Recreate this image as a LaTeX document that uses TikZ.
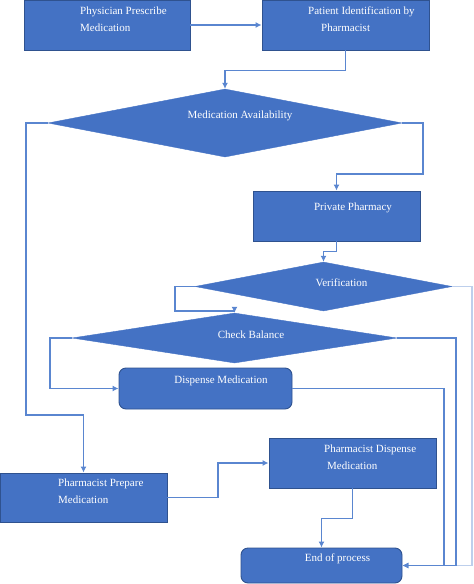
\documentclass[tikz,border=0pt]{standalone}
\usepackage{fontspec}
\setmainfont{Liberation Serif}
\usepackage{tikz}
\usetikzlibrary{shapes,arrows.meta}
\definecolor{flowblue}{HTML}{4472C4}
\definecolor{flowedge}{HTML}{2F528F}
\definecolor{flowline}{HTML}{5A86D0}
\tikzstyle{line} = [draw=flowline, line width=1.2pt, -{Latex[length=6pt,width=6pt]}]
\tikzstyle{paleline} = [line, draw=flowline!40]
\tikzstyle{box} = [draw=flowedge, fill=flowblue, line width=0.9pt, inner sep=0pt]
\tikzstyle{rbox} = [box, rounded corners=7pt]
\tikzstyle{decision} = [diamond, fill=flowblue, draw=flowblue, inner sep=0pt]
\tikzstyle{txt} = [text=white, inner sep=0pt, align=left, font=\fontsize{11}{17}\selectfont]

\begin{document}
\begin{tikzpicture}[x=1pt, y=-1pt]
                    \useasboundingbox (0,0) rectangle (474,584);
                    % shapes
                    \node [box, minimum width=166pt, minimum height=50pt] (phys) at (107,25) {};
                    \node [box, minimum width=167pt, minimum height=50pt] (patid) at (345.5,25) {};
                    \node [decision, minimum width=354pt, minimum height=68pt] (avail) at (225,123) {};
                    \node [box, minimum width=167pt, minimum height=50pt] (priv) at (336.5,216) {};
                    \node [decision, minimum width=257pt, minimum height=49pt] (verif) at (323.5,286.5) {};
                    \node [decision, minimum width=325pt, minimum height=50pt] (check) at (234.5,338) {};
                    \node [rbox, minimum width=173pt, minimum height=41pt] (disp) at (205.5,388.5) {};
                    \node [box, minimum width=167pt, minimum height=49pt] (prep) at (83.5,497.5) {};
                    \node [box, minimum width=167pt, minimum height=50pt] (pdisp) at (352.5,463) {};
                    \node [rbox, minimum width=161pt, minimum height=35pt] (endp) at (321.5,565.5) {};
                    % texts
                    \node [txt, anchor=west] (physT) at (80,19.5) {Physician Prescribe\\Medication};
                    \node [txt, anchor=west] (patidT) at (308,19.5) {Patient Identification by\\\hspace*{13pt}Pharmacist};
                    \node [txt] (availT) at (240,116) {Medication Availability};
                    \node [txt] (privT) at (353,208) {Private Pharmacy};
                    \node [txt] (verifT) at (341.5,283) {Verification};
                    \node [txt] (checkT) at (251,335) {Check Balance};
                    \node [txt] (dispT) at (221,381) {Dispense Medication};
                    \node [txt, anchor=west] (prepT) at (58,491.5) {Pharmacist Prepare\\Medication};
                    \node [txt, anchor=west] (pdispT) at (324,457.5) {Pharmacist Dispense\\\hspace*{3pt}Medication};
                    \node [txt] (endpT) at (337.5,559) {End of process};
                    % connectors
                    \path [line] (phys.east) -- (patid.west);
                    \path [line] (patid.south) -- ++(0,20) -| (avail.north);
                    \path [line] (avail.west) -| (26,415) -| (prep.north);
                    \path [line] (avail.east) -| (423,174) -| (priv.north);
                    \path [line] (priv.south) -- ++(0,10) -| (verif.north);
                    \path [line] (verif.west) -| (175,311) -| (check.north);
                    \path [paleline] (verif.east) -| (472,565.5) -- (endp.east);
                    \path [line] (check.east) -| (456,565.5) -- (endp.east);
                    \path [line] (check.west) -| (50,388.5) -- (disp.west);
                    \path [line] (disp.east) -| (444,565.5) -- (endp.east);
                    \path [line] (prep.east) -| (218,463) -- (pdisp.west);
                    \path [line] (pdisp.south) -- ++(0,30) -| (endp.north);
\end{tikzpicture}
\end{document}
